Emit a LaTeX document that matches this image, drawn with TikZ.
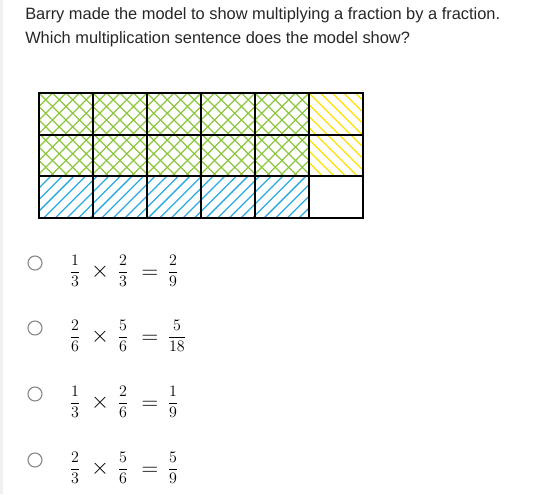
\documentclass[tikz,border=0pt]{standalone}
\usepackage[no-math]{fontspec}
\usepackage{amsmath}
\newfontfamily\titlefont{Liberation Sans}
\definecolor{hgreen}{HTML}{8DC63F}
\definecolor{hyellow}{HTML}{FFE000}
\definecolor{hblue}{HTML}{29ABE2}
\definecolor{radiogray}{HTML}{8A8A8A}
\begin{document}
\nulldelimiterspace=0pt
\begin{tikzpicture}[x=0.75pt,y=-0.75pt,
  gridline/.style={line width=1.5pt, draw=black},
  hatchg/.style={line width=0.9pt, draw=hgreen},
  hatchy/.style={line width=0.95pt, draw=hyellow},
  hatchb/.style={line width=0.95pt, draw=hblue},
  radio/.style={circle, draw=radiogray, line width=0.85pt, minimum size=10.5pt, inner sep=0pt},
  fracnode/.style={anchor=base, inner sep=0pt, font=\fontsize{12}{14}\selectfont},
  timesnode/.style={anchor=base, inner sep=0pt, font=\fontsize{17}{17}\selectfont},
  eqnode/.style={anchor=base, inner sep=0pt, font=\fontsize{18}{18}\selectfont},
  titletext/.style={anchor=base west, inner sep=0pt, font=\titlefont\fontsize{12.3}{14}\selectfont, text=black!85}]
\useasboundingbox (0,0) rectangle (556,494);
\fill[black!6] (0,0) rectangle (2.5,494);

% question
\node[titletext] (q1) at (25,19) {Barry made the model to show multiplying a fraction by a fraction.};
\node[titletext] (q2) at (25,43) {Which multiplication sentence does the model show?};

% green cross hatch
\begin{scope}
  \clip (39,93) rectangle (309,176.33);
  \foreach \k in {-10,...,30} {
    \draw[hatchg] (39+\k*13.5,93) -- ++(100,100);
    \draw[hatchg] (39+\k*13.5,93) -- ++(-100,100);
  }
\end{scope}
% yellow hatch
\begin{scope}
  \clip (309,93) rectangle (363,176.33);
  \foreach \k in {-10,...,6} {
    \draw[hatchy] (309+\k*11.6,93) -- ++(100,100);
  }
\end{scope}
% blue hatch
\begin{scope}
  \clip (39,176.33) rectangle (309,218);
  \foreach \k in {-2,...,30} {
    \draw[hatchb] (39+\k*11.6,176.33) -- ++(-60,60);
  }
\end{scope}

% grid
\foreach \x in {93,147,...,309} \draw[gridline] (\x,93) -- (\x,218);
\foreach \y in {134.67,176.33} \draw[gridline] (39,\y) -- (363,\y);
\draw[gridline] (39,93) rectangle (363,218);

% options
\foreach \i/\b/\p/\q/\r/\s/\t/\u/\c in {
  1/272/1/3/2/3/2/9/173,
  2/337/2/6/5/6/5/18/177,
  3/403/1/3/2/6/1/9/173,
  4/469/2/3/5/6/5/9/173} {
  \node[radio] (r\i) at (35,\b-9) {};
  \node[fracnode] (a\i) at (75,\b+4) {$\dfrac{\p}{\q}$};
  \node[timesnode] (m\i) at (100,\b+5.7) {$\times$};
  \node[fracnode] (b\i) at (123,\b+4) {$\dfrac{\r}{\s}$};
  \node[eqnode] (e\i) at (150,\b+6) {$=$};
  \node[fracnode] (c\i) at (\c,\b+4) {$\dfrac{\t}{\u}$};
}
\end{tikzpicture}
\end{document}
